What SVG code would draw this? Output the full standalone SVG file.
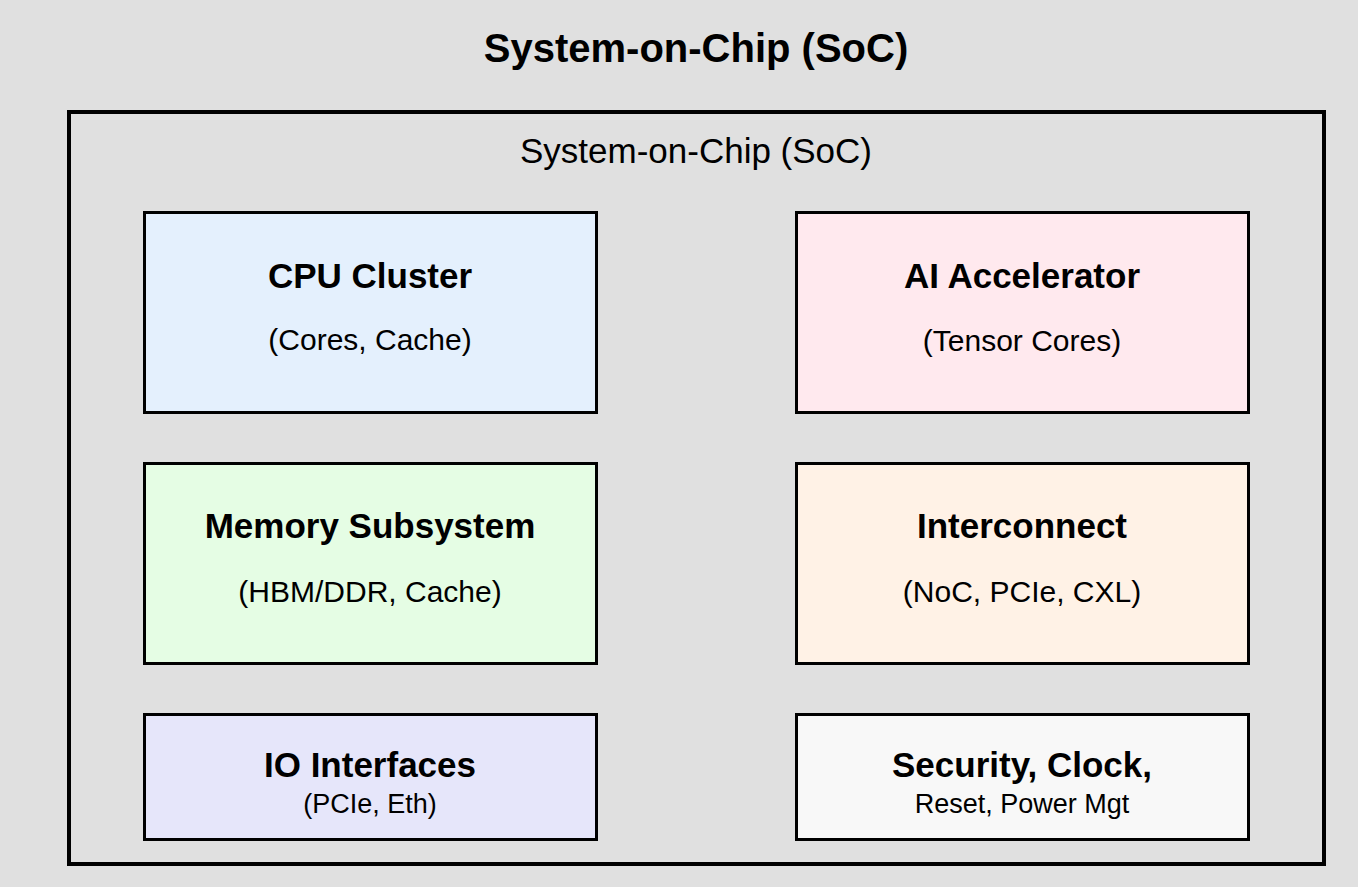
<svg xmlns="http://www.w3.org/2000/svg" width="1358" height="887" viewBox="0 0 1358 887">
<style>
.bg{fill:#e0e0e0}
.outer{fill:none;stroke:#000;stroke-width:4}
.box{stroke:#000;stroke-width:3}
text{font-family:"Liberation Sans",Arial,sans-serif;fill:#000;text-anchor:middle}
.t{font-size:40px;font-weight:bold}
.st{font-size:35px}
.h{font-size:35px;font-weight:bold}
.s{font-size:30px}
.s2{font-size:27px}
</style>
<rect class="bg" x="0" y="0" width="1358" height="887"/>
<text class="t" x="696" y="62">System-on-Chip (SoC)</text>
<g id="soc">
<rect class="outer" x="69" y="112" width="1255" height="752"/>
<text class="st" x="696" y="163">System-on-Chip (SoC)</text>
</g>
<g id="cpu">
<rect class="box" x="144.5" y="212.5" width="452" height="200" fill="#e4f0fd"/>
<text class="h" x="370" y="288">CPU Cluster</text>
<text class="s" x="370" y="350">(Cores, Cache)</text>
</g>
<g id="ai">
<rect class="box" x="796.5" y="212.5" width="452" height="200" fill="#ffe9ee"/>
<text class="h" x="1022" y="288">AI Accelerator</text>
<text class="s" x="1022" y="351">(Tensor Cores)</text>
</g>
<g id="memory">
<rect class="box" x="144.5" y="463.5" width="452" height="200" fill="#e5fde4"/>
<text class="h" x="370" y="538">Memory Subsystem</text>
<text class="s" x="370" y="602">(HBM/DDR, Cache)</text>
</g>
<g id="interconnect">
<rect class="box" x="796.5" y="463.5" width="452" height="200" fill="#fff2e6"/>
<text class="h" x="1022" y="538">Interconnect</text>
<text class="s" x="1022" y="602">(NoC, PCIe, CXL)</text>
</g>
<g id="io">
<rect class="box" x="144.5" y="714.5" width="452" height="125" fill="#e6e6fa"/>
<text class="h" x="370" y="777">IO Interfaces</text>
<text class="s2" x="370" y="813">(PCIe, Eth)</text>
</g>
<g id="security">
<rect class="box" x="796.5" y="714.5" width="452" height="125" fill="#f8f8f8"/>
<text class="h" x="1022" y="777">Security, Clock,</text>
<text class="s2" x="1022" y="813">Reset, Power Mgt</text>
</g>
<g id="connectors"/>
</svg>
